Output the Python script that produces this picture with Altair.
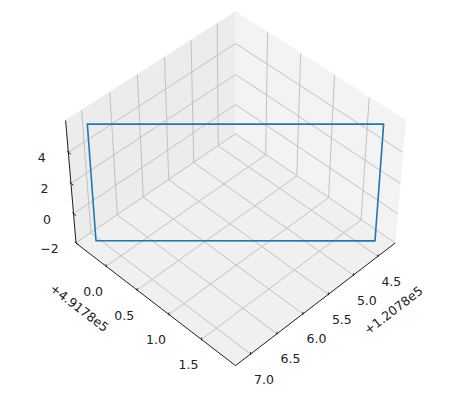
import numpy as np
import pandas as pd
import altair as alt

# ---------------- data (values as shown, relative to the axis offsets) ----------------
X_OFFSET_TEXT = "+1.2078e5"
Y_OFFSET_TEXT = "+4.9178e5"
line_x = [7.08, 4.34, 4.34, 7.08, 7.08]
line_y = [-0.34, 1.85, 1.85, -0.34, -0.34]
line_z = [5.75, 5.75, -1.87, -1.87, 5.75]

x_ticks = [4.5, 5.0, 5.5, 6.0, 6.5, 7.0]
y_ticks = [0.0, 0.5, 1.0, 1.5]
z_ticks = [-2, 0, 2, 4]
x_tick_labels = ["4.5", "5.0", "5.5", "6.0", "6.5", "7.0"]
y_tick_labels = ["0.0", "0.5", "1.0", "1.5"]
z_tick_labels = ["\u22122", "0", "2", "4"]

XLIM = (4.143, 7.28)
YLIM = (-0.496, 2.01)
ZLIM = (-2.02, 5.98)

# ---------------- view (matplotlib-like 3D projection) ----------------
ELEV, AZIM = 45.0, 45.0
DIST, FOCAL = 10.0, 1.0
VIEW_X = (-0.1205, 0.1220)
VIEW_Y = (-0.1099, 0.0947)
W, H = 474, 397
SX = W / (VIEW_X[1] - VIEW_X[0])
SY = H / (VIEW_Y[1] - VIEW_Y[0])

aspect = np.array([4.0, 4.0, 3.0])
aspect = aspect * 1.8294640721620434 * 25 / 24 / np.linalg.norm(aspect)
R = 0.5 * aspect
el, az = np.deg2rad(ELEV), np.deg2rad(AZIM)
ps = np.array([np.cos(el) * np.cos(az), np.cos(el) * np.sin(az), np.sin(el)])
eye = R + DIST * ps * FOCAL
w_ax = ps / np.linalg.norm(ps)
u_ax = np.cross([0.0, 0.0, 1.0], w_ax)
u_ax = u_ax / np.linalg.norm(u_ax)
v_ax = np.cross(w_ax, u_ax)


def project(x, y, z):
    x = np.atleast_1d(np.asarray(x, dtype=float))
    y = np.atleast_1d(np.asarray(y, dtype=float))
    z = np.atleast_1d(np.asarray(z, dtype=float))
    p = np.stack([
        (x - XLIM[0]) / (XLIM[1] - XLIM[0]) * aspect[0],
        (y - YLIM[0]) / (YLIM[1] - YLIM[0]) * aspect[1],
        (z - ZLIM[0]) / (ZLIM[1] - ZLIM[0]) * aspect[2],
    ], axis=-1)
    d = p - eye
    xv, yv, zv = d @ u_ax, d @ v_ax, d @ w_ax
    return FOCAL * xv / (-zv), FOCAL * yv / (-zv)


x0, x1 = XLIM
y0, y1 = YLIM
z0, z1 = ZLIM


def polyline_rows(segments):
    rows = []
    for sid, pts in enumerate(segments):
        xs, ys, zs = zip(*pts)
        px, py = project(xs, ys, zs)
        for k, (a, b) in enumerate(zip(px, py)):
            rows.append({"seg": sid, "k": k, "px": float(a), "py": float(b)})
    return pd.DataFrame(rows)


def polygon_band(pts):
    xs, ys, zs = zip(*pts)
    px, py = project(xs, ys, zs)
    n = len(px)
    rows = []
    for xv in np.unique(np.round(px, 10)):
        vals = []
        for i in range(n):
            xa, ya, xb, yb = px[i], py[i], px[(i + 1) % n], py[(i + 1) % n]
            if min(xa, xb) - 1e-9 <= xv <= max(xa, xb) + 1e-9:
                if abs(xb - xa) < 1e-9:
                    vals += [ya, yb]
                else:
                    t = (xv - xa) / (xb - xa)
                    vals.append(ya + t * (yb - ya))
        rows.append({"px": float(xv), "lo": float(min(vals)), "hi": float(max(vals))})
    return pd.DataFrame(rows)


# panes
floor = polygon_band([(x0, y0, z0), (x1, y0, z0), (x1, y1, z0), (x0, y1, z0)])
ypane = polygon_band([(x0, y0, z0), (x1, y0, z0), (x1, y0, z1), (x0, y0, z1)])
xpane = polygon_band([(x0, y0, z0), (x0, y1, z0), (x0, y1, z1), (x0, y0, z1)])

# gridlines
grid_segs = []
for t in x_ticks:
    grid_segs.append([(t, y1, z0), (t, y0, z0), (t, y0, z1)])
for t in y_ticks:
    grid_segs.append([(x1, t, z0), (x0, t, z0), (x0, t, z1)])
for t in z_ticks:
    grid_segs.append([(x1, y0, t), (x0, y0, t), (x0, y1, t)])
grid_df = polyline_rows(grid_segs)

# axis lines
axis_df = polyline_rows([
    [(x0, y1, z0), (x1, y1, z0)],
    [(x1, y0, z0), (x1, y1, z0)],
    [(x1, y0, z0), (x1, y0, z1)],
])

# tick marks
dz = (z1 - z0) / 12
dy = (y1 - y0) / 12
tick_segs = []
for t in x_ticks:
    tick_segs.append([(t, y1, z0 - 0.1 * dz), (t, y1, z0 + 0.2 * dz)])
for t in y_ticks:
    tick_segs.append([(x1, t, z0 - 0.1 * dz), (x1, t, z0 + 0.2 * dz)])
for t in z_ticks:
    tick_segs.append([(x1, y0 - 0.1 * dy, t), (x1, y0 + 0.2 * dy, t)])
tick_df = polyline_rows(tick_segs)

# data line
lx, ly = project(line_x, line_y, line_z)
data_df = pd.DataFrame({"k": range(len(lx)), "px": lx, "py": ly})


# labels (pixel offsets from the projected tick)
def label_df(xs, ys, zs, texts, dxp, dyp):
    px, py = project(xs, ys, zs)
    return pd.DataFrame({"px": px + dxp / SX, "py": py - dyp / SY, "text": texts})


xl = label_df(x_ticks, [y1] * len(x_ticks), [z0] * len(x_ticks), x_tick_labels, 13.5, 25.5)
yl = label_df([x1] * len(y_ticks), y_ticks, [z0] * len(y_ticks), y_tick_labels, -13, 26)
zl = label_df([x1] * len(z_ticks), [y0] * len(z_ticks), z_ticks, z_tick_labels, -26.5, 6)
tick_labels = pd.concat([xl, yl, zl], ignore_index=True)


def axis_angle(p, q):
    ax_, ay_ = project(*p)
    bx_, by_ = project(*q)
    ddx = (bx_[0] - ax_[0]) * SX
    ddy = -(by_[0] - ay_[0]) * SY
    return float(np.degrees(np.arctan2(ddy, ddx)) % 360)


ang_y = axis_angle((x1, y0, z0), (x1, y1, z0))
ang_x = axis_angle((x1, y1, z0), (x0, y1, z0))
oy = label_df([x1], [y0], [z0], [Y_OFFSET_TEXT], 3, 65)
ox = label_df([x0], [y1], [z0], [X_OFFSET_TEXT], -1.5, 67.5)
oy["ang"] = ang_y
ox["ang"] = ang_x
offset_labels = pd.concat([oy, ox], ignore_index=True)

# ---------------- chart ----------------
xs_ = alt.Scale(domain=list(VIEW_X), nice=False, zero=False)
ys_ = alt.Scale(domain=list(VIEW_Y), nice=False, zero=False)
X = alt.X("px:Q", scale=xs_, axis=None)
Y = alt.Y("py:Q", scale=ys_, axis=None)


def pane(df, gray):
    return alt.Chart(df).mark_area(
        orient="vertical", fill=gray, fillOpacity=1, stroke=gray, strokeWidth=1
    ).encode(
        x=alt.X("px:Q", scale=xs_, axis=None, sort=None),
        y=alt.Y("lo:Q", scale=ys_, axis=None),
        y2=alt.Y2("hi:Q"),
    )


panes = [
    pane(floor, "#f0f0f0"),
    pane(ypane, "#ececec"),
    pane(xpane, "#f3f3f3"),
]

grid = alt.Chart(grid_df).mark_line(color="#c2c2c2", strokeWidth=1.0).encode(
    x=X, y=Y, detail="seg:N", order="k:Q")
axes = alt.Chart(axis_df).mark_line(color="#222222", strokeWidth=1.0).encode(
    x=X, y=Y, detail="seg:N", order="k:Q")
ticks = alt.Chart(tick_df).mark_line(color="#222222", strokeWidth=1.0).encode(
    x=X, y=Y, detail="seg:N", order="k:Q")
data_line = alt.Chart(data_df).mark_line(
    color="#1f77b4", strokeWidth=1.6, strokeJoin="round", strokeCap="square"
).encode(x=X, y=Y, order="k:Q")

labels = alt.Chart(tick_labels).mark_text(
    font="DejaVu Sans", fontSize=12.5, color="#222222", align="center", baseline="middle"
).encode(x=X, y=Y, text="text:N")

off = alt.Chart(offset_labels).mark_text(
    font="DejaVu Sans", fontSize=12.5, color="#222222", align="center", baseline="middle"
).encode(x=X, y=Y, text="text:N", angle=alt.Angle("ang:Q", scale=None))

chart = alt.layer(*panes, grid, axes, ticks, data_line, labels, off).properties(
    width=W, height=H, autosize="none", padding=0, background="white"
).configure_view(stroke=None)

chart.save("out.html", embed_options={"renderer": "svg", "actions": False})
